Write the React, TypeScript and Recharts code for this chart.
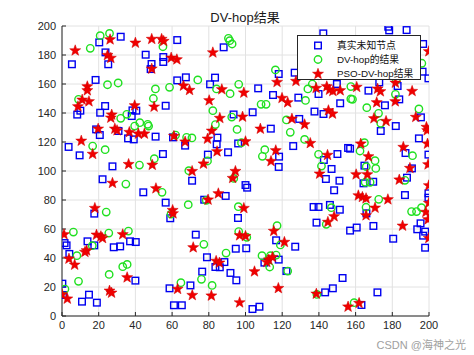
import React from 'react';
import { ScatterChart, Scatter, XAxis, YAxis, CartesianGrid } from 'recharts';

const titleText = 'DV-hop结果';
const seriesNames = ['真实未知节点', 'DV-hop的结果', 'PSO-DV-hop结果'];
const axisTicks = [0, 20, 40, 60, 80, 100, 120, 140, 160, 180, 200];
const watermark = 'CSDN @海神之光';

const trueNodes: [number, number][] = [
  [5.4,173.6],[20.3,188.7],[32,192.6],[23.7,181.8],[25.2,173.6],[45.6,180.2],[48.8,173.8],[48.3,170.3],[55.2,178.6],[55.2,175.2],
  [62.8,190.3],[62.8,162.5],[67.5,164.6],[80.7,159.8],[83.4,164.4],[88.1,185.3],[18.3,162.8],[10,141.6],[8.3,138.9],[23.5,144.8],
  [20.8,140.2],[38.4,141.8],[40.5,141.6],[38,137.9],[56.5,145],[18.6,128.7],[20.6,124.8],[30.8,127.6],[36,122.5],[39.1,121.8],
  [51,123.7],[60.5,123.2],[67.1,117.5],[84.7,123],[84.3,118.4],[93.5,139],[90.5,112.9],[79.5,111.3],[96,119],[3.6,116.6],
  [9.6,110.8],[55,111.7],[27.5,103.2],
  [177.8,199.5],[178.3,197],[187.8,197.2],[142.4,194.9],[196.8,187.6],[118.1,166.9],[126.8,167.8],[139.8,153.1],[149.8,160],[106.9,157],
  [115,152.4],[128.8,150.6],[151.6,146.7],[167,155.4],[172.9,161.1],[182.9,158.6],[183.8,149.4],[176,145.3],[196.5,168.5],[199.7,163.9],
  [103.9,140.5],[137.6,141],[142.5,139.3],[129.3,135.9],[113.8,129.2],[173.7,127.6],[181.9,131],[195.6,137],[194.5,122.5],[126,117.2],
  [150.1,111.7],[155.9,115.9],[157,115.4],[118.3,109.9],[118.1,102.8],[142.7,107.6],[146.9,101.4],[164.8,103.7],[187.2,112.4],[190.7,101.8],
  [199.7,111.3],
  [22.1,94.3],[44.3,85.3],[56.5,78.2],[59,67.4],[70.9,93.3],[77.5,80.2],[89.2,82.8],[95.9,67.6],[17.6,70.6],[1.4,50.3],
  [2.5,48.7],[4,42.8],[13.9,51.5],[17.6,48.7],[28.2,47.4],[31.7,48],[37.1,51.5],[40.2,51],[72.9,56.1],[79,40.5],
  [76.4,30.6],[83.6,33.8],[86,33.6],[88.5,37.2],[91.8,29.7],[95,24.6],[94.7,46.4],[40,24.4],[0.2,22.3],[0.5,14.5],
  [14.7,14.7],[10.9,9.9],[19,9.2],[58.6,19.1],[70,21.1],[61,7.4],[65.3,7.4],
  [143.8,94.5],[151.2,93.3],[148.3,86.7],[164.3,91.5],[169.6,92.6],[188,95.4],[186.9,83.4],[199.7,84.6],[199.7,81.6],[100,90.3],
  [100.9,88.5],[137.1,75.2],[139.8,75.2],[146,76.6],[151.4,73.3],[138.7,64.4],[165.9,70.8],[157,58.9],[160.6,61],[169.7,62.1],
  [180.5,53.3],[193.6,59.8],[195.4,63.9],[197.9,58.2],[196.8,55.4],[197.9,47.1],[100.4,46.7],[116.7,52.2],[127.1,47.8],[110.3,36.8],
  [118.1,38.9],[122.3,31],[152.9,26.2],[143.4,16.3],[147.6,19.1],[171.9,16.3],[103.8,4.8],[107.6,6.4],[163.2,7.6],
];

const dvhopResults: [number, number][] = [
  [20.8,193.3],[25.9,194.9],[15.4,184.6],[55,185.7],[90.7,191.5],[91.4,189.9],[92.7,187.6],[24.8,159.5],[30.6,160.7],[50.9,156.6],
  [58.6,157.7],[74,162.8],[49.8,150],[9,149.4],[84.2,156.6],[91.6,153.3],[96.3,159.8],[32,136.3],[35.3,139.1],[42.4,133.3],
  [39.6,131],[46.7,132.2],[47.2,131],[82.2,141.6],[92.5,137.2],[83.6,132],[95.4,128.7],[16.7,117.2],[23.5,114.7],[61.9,124.8],
  [67.9,123.2],[70.8,122.8],[50.3,108.5],[42.2,104.1],[79.3,106.9],[69.1,100.2],
  [116.3,169.7],[108.5,146],[111.2,146],[122.3,135.2],[124.4,126.7],[134,156.6],[132.7,148.7],[136.4,160],[157.4,158.2],[157.4,149.7],
  [158.3,149.4],[166.1,143.7],[172.5,139.8],[173.7,132.9],[181.7,152.9],[182.2,162.8],[194.5,142.8],[196.1,174.3],[132.2,121.8],[110.5,114.7],
  [109.2,110.1],[139.8,111.5],[141.4,103.4],[164.8,119.5],[162.4,113.8],[170.6,107.1],[171,101.8],[165.8,103],[191,110.6],[97.8,119.5],
  [34.8,91],[54.5,85.3],[68.8,76.8],[78.6,79.8],[93.6,94.9],[24.1,71.7],[59.4,70.3],[6.2,57.9],[25.5,57.2],[36.2,58.6],
  [8.1,41.6],[16.5,48.5],[9,23.9],[1.6,18.6],[25.7,28.7],[33.1,34],[35.5,35.6],[77.3,49.4],[89.4,43.4],[96.1,75.4],
  [64.8,23],[76,25.3],[81.8,21.1],[96.3,58.2],
  [167.9,92.2],[165.2,92.2],[186.9,93.6],[172.6,80.5],[165.7,75],[190.5,72],[193.2,72],[195.9,74.7],[144,63.2],[146.8,74.7],
  [100.7,54.3],[117.2,62.3],[119,49],[109,41.6],[113.6,41.6],[113.2,33.8],[116.7,42],[123,31],[138.9,14.9],[159.2,9.2],
];

const psoResults: [number, number][] = [
  [7.2,183.4],[26.2,191],[40,188.7],[48.9,191.3],[54.3,191.3],[55.4,189.9],[24.8,180.2],[26.6,178.2],[48.9,170.8],[59.5,178.4],
  [62.6,177.2],[82.2,182],[13.8,158.6],[13.8,155.9],[11,149.4],[14.7,148.3],[8.7,144.8],[39.6,145.5],[50.2,144.6],[66.2,159.1],
  [69.5,156.1],[80.2,149],[87.1,156.6],[86,136.8],[27.1,139.1],[26.6,137],[19.7,129.4],[28.8,129.4],[30,128.3],[36.7,127.1],
  [41.6,126],[44.9,126],[61,124.4],[67.1,120.5],[81.6,128],[79.3,122.5],[10.5,121.1],[16.7,112],[84.5,113.8],[36.3,105],
  [49.2,104.5],[77.1,105.3],[70.9,100.2],[94.5,100.2],
  [199.9,182.8],[117.2,161.6],[127.5,162.3],[138.5,157.5],[144.3,158.6],[145.8,156.3],[147.6,155.4],[151.6,155.9],[160.6,158.2],[172,157],
  [173.5,155.2],[181.7,161.1],[190.8,155.4],[99.1,154.3],[119.9,150.6],[123,147.6],[171.5,147.6],[181.6,148.3],[98.4,137.7],[108.1,129.4],
  [125.3,136.3],[132.2,132.4],[145.2,142.1],[147.4,139.8],[170,136.6],[176.6,134.7],[192.8,137.5],[198.6,130.6],[199,128.3],[100,120.7],
  [135.3,119.5],[162.8,119.1],[144.7,111.3],[167,110.3],[186,116.8],[199.2,119.1],[116.5,114.5],[113.9,107.1],[189.6,102.3],[199.5,104.8],
  [160.3,97.9],[166.4,97.9],[140.4,98.4],
  [27.5,92],[51.2,88.3],[60.3,73.3],[60.5,71],[79.6,80.5],[85.2,84.8],[93,95.4],[17.9,74.7],[1.1,56.6],[18.8,56.3],
  [21.2,55.2],[22.1,54],[33.1,56.6],[13.4,45.5],[12.5,44.4],[3.8,39.8],[6.9,35.6],[35.5,26.9],[25.9,17.7],[27,16.3],
  [0,15.2],[2.9,12.2],[71.5,47.6],[84,38.2],[85.8,37],[63,18.9],[71,14.7],[81.4,14.3],[96.8,55.9],[96.8,9.6],
  [183.8,94.3],[199.9,90.3],[161.5,83.4],[163.7,82.3],[165.7,81.4],[177.6,80.7],[199.9,78.2],[170.6,74.9],[165.7,69.7],[198.3,72],
  [199.5,66.9],[148.3,69],[144.9,65.1],[185.6,62.5],[99.1,74.7],[100,55.4],[199.9,54],[115.4,58.9],[121.2,51.3],[112.7,39.1],
  [114.7,40.9],[111.6,37.5],[104.9,31],[117.9,19.5],[138.6,15.6],[155.9,6.7],[161.9,9.2],
];

const toPoints = (arr: [number, number][]) => arr.map(([x, y]) => ({ x, y }));

const BLUE = '#0000f0';
const GREEN = '#20e020';
const RED = '#f00000';

const starPoints = (cx: number, cy: number, R: number, r: number) => {
  const pts: string[] = [];
  for (let i = 0; i < 10; i++) {
    const a = (-90 + i * 36) * Math.PI / 180;
    const rad = i % 2 === 0 ? R : r;
    pts.push(`${(cx + rad * Math.cos(a)).toFixed(2)},${(cy + rad * Math.sin(a)).toFixed(2)}`);
  }
  return pts.join(' ');
};

const SquareShape = (props: any) => {
  const { cx, cy } = props;
  if (cx == null || cy == null) return null;
  return <rect x={cx - 3.3} y={cy - 3.3} width={6.6} height={6.6} fill="none" stroke={BLUE} strokeWidth={1.4} />;
};
const CircleShape = (props: any) => {
  const { cx, cy } = props;
  if (cx == null || cy == null) return null;
  return <circle cx={cx} cy={cy} r={3.7} fill="none" stroke={GREEN} strokeWidth={1.4} />;
};
const StarShape = (props: any) => {
  const { cx, cy } = props;
  if (cx == null || cy == null) return null;
  return <polygon points={starPoints(cx, cy + 0.5, 5.8, 2.4)} fill={RED} stroke="#d00000" strokeWidth={0.5} />;
};

const axisColor = '#262626';
const tickStyle = { fontSize: 11, fill: axisColor, fontFamily: 'Liberation Sans, Arial, sans-serif' };

const LegendBox = () => (
  <div style={{
    position: 'absolute', left: 297, top: 35, width: 124, height: 45, boxSizing: 'border-box',
    background: '#fff', border: `1px solid ${axisColor}`,
    fontFamily: 'Liberation Sans, "Noto Sans CJK SC", sans-serif', fontSize: 9.8, color: '#111',
  }}>
    {seriesNames.map((name, i) => (
      <div key={name} style={{ position: 'absolute', left: 0, top: 2.5 + i * 14, height: 13, width: '100%', display: 'flex', alignItems: 'center' }}>
        <svg width={39} height={13} style={{ flex: 'none' }}>
          {i === 0 && <rect x={16.7} y={3.2} width={6.6} height={6.6} fill="none" stroke={BLUE} strokeWidth={1.4} />}
          {i === 1 && <circle cx={20} cy={6.5} r={3.7} fill="none" stroke={GREEN} strokeWidth={1.4} />}
          {i === 2 && <polygon points={starPoints(20, 7, 5.8, 2.4)} fill={RED} stroke="#d00000" strokeWidth={0.5} />}
        </svg>
        <span style={{ whiteSpace: 'nowrap' }}>{name}</span>
      </div>
    ))}
  </div>
);

export default function App() {
  return (
    <div style={{ position: 'absolute', left: 0, top: 0, width: 474, height: 355, background: '#fff', overflow: 'hidden' }}>
      <div style={{
        position: 'absolute', left: 145, width: 200, top: 7, textAlign: 'center',
        fontFamily: 'Liberation Sans, "Noto Sans CJK SC", sans-serif', fontSize: 13, color: '#1a1a1a',
      }}>{titleText}</div>
      <ScatterChart width={474} height={355} margin={{ top: 26, right: 45, bottom: 14, left: 32 }}>
        <CartesianGrid stroke="#e2e2e2" strokeWidth={1} />
        <XAxis type="number" dataKey="x" domain={[0, 200]} ticks={axisTicks} interval={0}
          stroke={axisColor} tick={tickStyle} tickSize={-4} tickMargin={9} height={25} allowDataOverflow />
        <YAxis type="number" dataKey="y" domain={[0, 200]} ticks={axisTicks} interval={0}
          stroke={axisColor} tick={tickStyle} tickSize={-4} tickMargin={10} width={30} allowDataOverflow />
        <XAxis xAxisId="top" orientation="top" type="number" domain={[0, 200]} ticks={axisTicks}
          stroke={axisColor} tick={false} tickSize={-4} height={0} />
        <YAxis yAxisId="right" orientation="right" type="number" domain={[0, 200]} ticks={axisTicks}
          stroke={axisColor} tick={false} tickSize={-4} width={0} />
        <Scatter name={seriesNames[0]} data={toPoints(trueNodes)} shape={SquareShape} isAnimationActive={false} />
        <Scatter name={seriesNames[1]} data={toPoints(dvhopResults)} shape={CircleShape} isAnimationActive={false} />
        <Scatter name={seriesNames[2]} data={toPoints(psoResults)} shape={StarShape} isAnimationActive={false} />
      </ScatterChart>
      <LegendBox />
      <div style={{
        position: 'absolute', right: 8, top: 336, fontFamily: 'Liberation Sans, "Noto Sans CJK SC", sans-serif',
        fontSize: 11, color: '#a0a0a0',
      }}>{watermark}</div>
    </div>
  );
}
